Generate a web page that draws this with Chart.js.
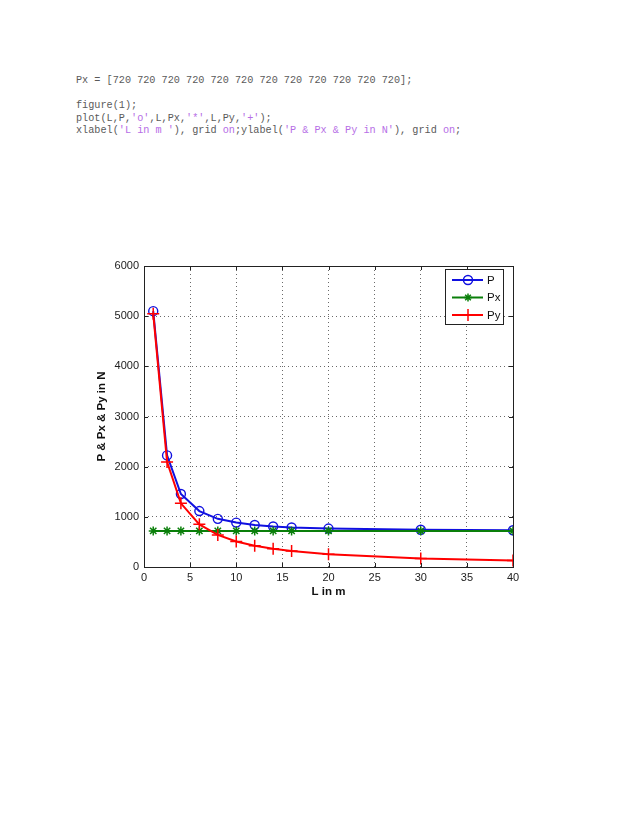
<!DOCTYPE html>
<html>
<head>
<meta charset="utf-8">
<script src="https://cdn.jsdelivr.net/npm/chart.js@4.4.0/dist/chart.umd.min.js"></script>
<style>
  html, body { margin: 0; padding: 0; background: #fff; width: 638px; height: 826px; overflow: hidden; }
  #code { position: absolute; left: 76px; top: 75px; margin: 0; font-family: "Liberation Mono", "DejaVu Sans Mono", monospace; font-size: 10.2px; line-height: 12.6px; color: #5a5a5a; white-space: pre; }
  #code .s { color: #b66ee6; }
  #wrap { position: absolute; left: 60px; top: 240px; width: 500px; height: 380px; }
</style>
</head>
<body>
<pre id="code">Px = [720 720 720 720 720 720 720 720 720 720 720 720];

figure(1);
plot(L,P,<span class="s">'o'</span>,L,Px,<span class="s">'*'</span>,L,Py,<span class="s">'+'</span>);
xlabel(<span class="s">'L in m '</span>), grid <span class="s">on</span>;ylabel(<span class="s">'P &amp; Px &amp; Py in N'</span>), grid <span class="s">on</span>;</pre>
<div id="wrap"><canvas id="c" width="500" height="380"></canvas></div>
<script>
const L  = [1, 2.5, 4, 6, 8, 10, 12, 14, 16, 20, 30, 40];
const P  = [5100, 2225, 1455, 1115, 960, 885, 838, 808, 788, 766, 742, 732];
const Px = [720, 720, 720, 720, 720, 720, 720, 720, 720, 720, 720, 720];
const Py = [5050, 2095, 1270, 850, 640, 510, 425, 365, 320, 255, 170, 128];
const xTicks = [0, 5, 10, 15, 20, 25, 30, 35, 40];
const yTicks = [0, 1000, 2000, 3000, 4000, 5000, 6000];
const seriesNames = ['P', 'Px', 'Py'];

const pts = arr => L.map((x, i) => ({x: x, y: arr[i]}));
const FONT = '"Liberation Sans", Arial, sans-serif';

const boxPlugin = {
  id: 'box',
  afterDatasetsDraw(chart) {
    const {ctx, chartArea: a, scales} = chart;
    ctx.save();
    ctx.strokeStyle = '#222';
    ctx.lineWidth = 1;
    ctx.strokeRect(a.left + 0.5, a.top + 0.5, a.right - a.left, a.bottom - a.top);
    const t = 4;
    ctx.beginPath();
    scales.x.ticks.forEach(tk => {
      const px = Math.round(scales.x.getPixelForValue(tk.value)) + 0.5;
      ctx.moveTo(px, a.bottom); ctx.lineTo(px, a.bottom - t);
      ctx.moveTo(px, a.top); ctx.lineTo(px, a.top + t);
    });
    scales.y.ticks.forEach(tk => {
      const py = Math.round(scales.y.getPixelForValue(tk.value)) + 0.5;
      ctx.moveTo(a.left, py); ctx.lineTo(a.left + t, py);
      ctx.moveTo(a.right, py); ctx.lineTo(a.right - t, py);
    });
    ctx.stroke();
    const bw = 58, bh = 55;
    const bx = a.right - 10 - bw, by = a.top + 3;
    ctx.fillStyle = '#fff';
    ctx.fillRect(bx, by, bw, bh);
    ctx.strokeStyle = '#222';
    ctx.strokeRect(bx + 0.5, by + 0.5, bw, bh);
    chart.data.datasets.forEach((ds, i) => {
      const y = by + 11 + i * 17.5;
      ctx.strokeStyle = ds.borderColor;
      ctx.lineWidth = 2;
      ctx.beginPath();
      ctx.moveTo(bx + 7, y); ctx.lineTo(bx + 38, y);
      ctx.stroke();
      const mx = bx + 23;
      ctx.lineWidth = 1.5;
      ctx.beginPath();
      if (ds.pointStyle === 'circle') {
        ctx.arc(mx, y, 4.5, 0, Math.PI * 2);
      } else if (ds.pointStyle === 'star') {
        const r = 4;
        for (let k = 0; k < 4; k++) {
          const ang = k * Math.PI / 4;
          ctx.moveTo(mx - r * Math.cos(ang), y - r * Math.sin(ang));
          ctx.lineTo(mx + r * Math.cos(ang), y + r * Math.sin(ang));
        }
      } else {
        ctx.moveTo(mx, y - 6); ctx.lineTo(mx, y + 6);
      }
      ctx.stroke();
      ctx.fillStyle = '#111';
      ctx.font = '11.5px ' + FONT;
      ctx.textBaseline = 'middle';
      ctx.textAlign = 'left';
      ctx.fillText(ds.label, bx + 42, y + 0.5);
    });
    ctx.restore();
  }
};

new Chart(document.getElementById('c'), {
  type: 'line',
  data: {
    datasets: [
      { label: seriesNames[0], data: pts(P), borderColor: '#1010e0', backgroundColor: 'rgba(0,0,0,0)',
        pointStyle: 'circle', pointRadius: 4.5, pointBorderWidth: 1.4, borderWidth: 2, order: 3 },
      { label: seriesNames[1], data: pts(Px), borderColor: '#0a7f0a', backgroundColor: '#0a7f0a',
        pointStyle: 'star', pointRadius: 4.5, pointBorderWidth: 1.5, borderWidth: 2, order: 2 },
      { label: seriesNames[2], data: pts(Py), borderColor: '#ff0000', backgroundColor: '#ff0000',
        pointStyle: 'cross', pointRadius: 6, pointBorderWidth: 1.5, borderWidth: 2, order: 1 }
    ]
  },
  options: {
    responsive: false,
    animation: false,
    events: [],
    layout: { padding: { left: 35, top: 26, right: 47, bottom: 21 } },
    plugins: { legend: { display: false }, tooltip: { enabled: false } },
    elements: { line: { tension: 0 } },
    scales: {
      x: {
        type: 'linear', min: 0, max: 40,
        afterBuildTicks: s => { s.ticks = xTicks.map(v => ({value: v})); },
        afterFit: s => { s.height = 32; },
        ticks: { color: '#222', font: { family: FONT, size: 11 }, padding: 4, maxRotation: 0, callback: v => String(v) },
        grid: { color: '#444', lineWidth: 0.8, drawTicks: false },
        border: { display: false, dash: [1, 3] },
        title: { display: true, text: 'L in m', color: '#111', font: { family: FONT, size: 11.5, weight: 'bold' }, padding: 0 }
      },
      y: {
        type: 'linear', min: 0, max: 6000,
        afterBuildTicks: s => { s.ticks = yTicks.map(v => ({value: v})); },
        afterFit: s => { s.width = 49; },
        ticks: { color: '#222', font: { family: FONT, size: 11 }, padding: 5, callback: v => String(v) },
        grid: { color: '#444', lineWidth: 0.8, drawTicks: false },
        border: { display: false, dash: [1, 3] },
        title: { display: true, text: 'P & Px & Py in N', color: '#111', font: { family: FONT, size: 11.5, weight: 'bold' }, padding: 0 }
      }
    }
  },
  plugins: [boxPlugin]
});
</script>
</body>
</html>
